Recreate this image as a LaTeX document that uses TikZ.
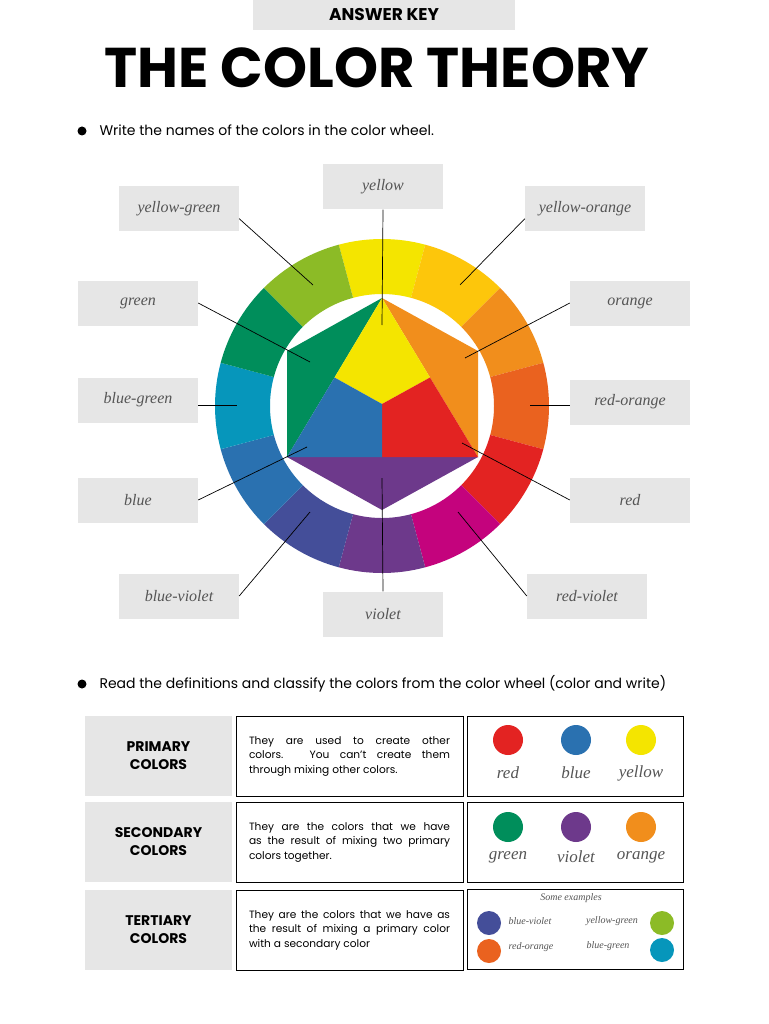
\documentclass[tikz,border=0pt]{standalone}
\usepackage{fontspec}
\setmainfont{Poppins}
\newfontfamily\hand{Liberation Serif}
\usetikzlibrary{calc}
\definecolor{cY}{HTML}{F4E500}\definecolor{cYO}{HTML}{FDC60B}\definecolor{cO}{HTML}{F18E1C}
\definecolor{cRO}{HTML}{EA621F}\definecolor{cR}{HTML}{E32322}\definecolor{cRV}{HTML}{C4037D}
\definecolor{cV}{HTML}{6D398B}\definecolor{cBV}{HTML}{444E99}\definecolor{cB}{HTML}{2A71B0}
\definecolor{cBG}{HTML}{0696BB}\definecolor{cG}{HTML}{008E5B}\definecolor{cYG}{HTML}{8CBB26}
\definecolor{boxg}{HTML}{E6E6E6}\definecolor{txg}{HTML}{555555}
\tikzset{lbl/.style={fill=boxg,minimum width=120pt,minimum height=45pt,font=\hand\itshape\fontsize{16}{18}\selectfont,text=txg},
 lead/.style={black,line width=0.7pt},
 cname/.style={font=\hand\itshape\fontsize{17}{19}\selectfont,text=txg},
 sname/.style={font=\hand\itshape\fontsize{10}{12}\selectfont,text=txg},
 dot/.style={circle,minimum size=30pt,inner sep=0},
 sdot/.style={circle,minimum size=24pt,inner sep=0},
 head/.style={fill=boxg,minimum width=147pt,minimum height=80pt,align=center,font=\bfseries\fontsize{14}{18}\selectfont},
 defn/.style={draw,line width=0.8pt,minimum width=227pt,minimum height=80pt,inner sep=0,font=\fontsize{10.6}{13.5}\selectfont},
 ex/.style={draw,line width=0.8pt,minimum width=216pt,minimum height=80pt}}
\begin{document}
\begin{tikzpicture}[x=1pt,y=-1pt]
\fill[white] (0,0) rectangle (768,1024);
\useasboundingbox (0,0) rectangle (768,1024);
\node[fill=boxg,minimum width=262pt,minimum height=30pt,font=\bfseries\fontsize{17}{20}\selectfont] (ak) at (384,15) {ANSWER KEY};
\node[font=\bfseries\fontsize{56}{60}\selectfont] (title) at (377,68) {THE COLOR THEORY};
\fill (82,131) circle (4.5) coordinate (b1);
\node[anchor=west,font=\fontsize{14}{16}\selectfont] (t1) at (96,130) {Write the names of the colors in the color wheel.};
% wheel
\coordinate (C) at (382,406);
\foreach \i/\c in {0/cY,1/cYO,2/cO,3/cRO,4/cR,5/cRV,6/cV,7/cBV,8/cB,9/cBG,10/cG,11/cYG}{
 \pgfmathsetmacro\a{-90+30*\i}
 \fill[\c,shift={(C)}] (\a-15:167) arc[start angle=\a-15,end angle=\a+15,radius=167] -- (\a+15:112) arc[start angle=\a+15,end angle=\a-15,radius=112] -- cycle;}
\coordinate (T) at (382,298);\coordinate (R) at (478,457);\coordinate (L) at (287,457);
\coordinate (M) at (382,404);
\coordinate (mTR) at (430,377.5);\coordinate (mTL) at (334.5,377.5);\coordinate (mLR) at (382,457);
\fill[cO] (T)--(478,351)--(R)--cycle;
\fill[cG] (T)--(287,351)--(L)--cycle;
\fill[cV] (L)--(382,510)--(R)--cycle;
\fill[cY] (T)--(mTR)--(M)--(mTL)--cycle;
\fill[cR] (R)--(mLR)--(M)--(mTR)--cycle;
\fill[cB] (L)--(mTL)--(M)--(mLR)--cycle;
% labels
\node[lbl] (ly) at (383,187) {yellow};
\node[lbl] (lyg) at (179,209) {yellow-green};
\node[lbl] (lyo) at (585,209) {yellow-orange};
\node[lbl] (lg) at (138,303) {green};
\node[lbl] (lo) at (630,303) {orange};
\node[lbl] (lbg) at (138,400) {blue-green};
\node[lbl] (lro) at (630,402) {red-orange};
\node[lbl] (lb) at (138,500) {blue};
\node[lbl] (lr) at (630,500) {red};
\node[lbl] (lbv) at (179,596) {blue-violet};
\node[lbl] (lrv) at (587,596) {red-violet};
\node[lbl] (lv) at (383,614) {violet};
\coordinate (py) at (382,325);\coordinate (pyg) at (313,285);\coordinate (pyo) at (460,285);
\coordinate (pg) at (310,362);\coordinate (po) at (465,358);\coordinate (pbg) at (237,405);
\coordinate (pro) at (530,405);\coordinate (pb) at (307,447);\coordinate (pr) at (462,443);
\coordinate (pbv) at (310,512);\coordinate (prv) at (458,512);\coordinate (pv) at (382,478);
\draw[lead] (ly.south) -- (py);
\draw[lead] (lyg.south east) ++(0,-13) coordinate (q1) (q1) -- (pyg);
\draw[lead] (lyo.south west) ++(0,-13) coordinate (q2) (q2) -- (pyo);
\draw[lead] (lg.east) -- (pg);
\draw[lead] (lo.west) -- (po);
\draw[lead] ($(lbg.east)+(0,5)$) -- (pbg);
\draw[lead] ($(lro.west)+(0,3)$) -- (pro);
\draw[lead] (lb.east) -- (pb);
\draw[lead] (lr.west) -- (pr);
\draw[lead] (lbv.east) -- (pbv);
\draw[lead] (lrv.west) -- (prv);
\draw[lead] (lv.north) -- (pv);
% part 2
\fill (82,684) circle (4.5) coordinate (b2);
\node[anchor=west,font=\fontsize{14}{16}\selectfont] (t2) at (96,684) {Read the definitions and classify the colors from the color wheel (color and write)};
\node[head] (h1) at (158.5,756) {PRIMARY\\COLORS};
\node[head] (h2) at (158.5,842) {SECONDARY\\COLORS};
\node[head] (h3) at (158.5,930) {TERTIARY\\COLORS};
\node[defn] (d1) at (349.5,756) {\parbox{201pt}{\hyphenpenalty=10000\baselineskip=14.5pt\spaceskip=3pt plus 8pt They are used to create other colors. You can't create them through mixing other colors.}};
\node[defn] (d2) at (349.5,842) {\parbox{201pt}{\hyphenpenalty=10000\baselineskip=14.5pt\spaceskip=3pt plus 8pt They are the colors that we have as the result of mixing two primary colors together.}};
\node[defn] (d3) at (349.5,930) {\parbox{201pt}{\hyphenpenalty=10000\baselineskip=14.5pt\spaceskip=3pt plus 8pt They are the colors that we have as the result of mixing a primary color with a secondary color}};
\node[ex] (e1) at (575,756) {};
\node[ex] (e2) at (575,842) {};
\node[ex] (e3) at (575,929) {};
\node[dot,fill=cR] (c1) at (508,740) {};\node[cname] (n1) at (508,773) {red};
\node[dot,fill=cB] (c2) at (576,740) {};\node[cname] (n2) at (576,773) {blue};
\node[dot,fill=cY] (c3) at (641,740) {};\node[cname] (n3) at (641,773) {yellow};
\node[dot,fill=cG] (c4) at (508,827) {};\node[cname] (n4) at (508,857) {green};
\node[dot,fill=cV] (c5) at (576,827) {};\node[cname] (n5) at (576,857) {violet};
\node[dot,fill=cO] (c6) at (641,827) {};\node[cname] (n6) at (641,857) {orange};
\node[sname] (se) at (571,898) {Some examples};
\node[sdot,fill=cBV] (c7) at (489,923) {};\node[sname] (n7) at (530,921) {blue-violet};
\node[sdot,fill=cYG] (c8) at (662,923) {};\node[sname] (n8) at (612,921) {yellow-green};
\node[sdot,fill=cRO] (c9) at (489,951) {};\node[sname] (n9) at (531,947) {red-orange};
\node[sdot,fill=cBG] (c10) at (662,950) {};\node[sname] (n10) at (608,946) {blue-green};
\end{tikzpicture}
\end{document}
